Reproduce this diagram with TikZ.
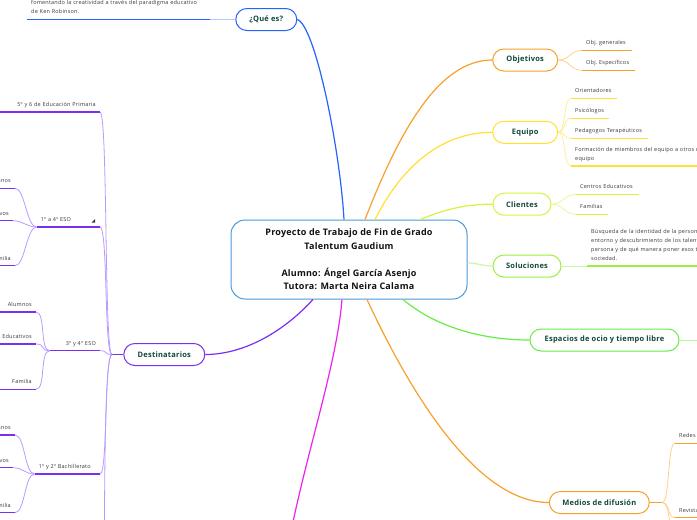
\documentclass[tikz,border=0pt]{standalone}
\usepackage{fontspec}
\setmainfont{Open Sans}
\newfontfamily\hubface[LetterSpace=2.5]{Open Sans}
\newfontfamily\topicface[LetterSpace=3]{Open Sans}
\newfontfamily\leafface[LetterSpace=4]{Open Sans}

\definecolor{hubblue}{HTML}{4A9BD8}
\definecolor{hubtext}{HTML}{111111}
\definecolor{topictext}{HTML}{11493A}
\definecolor{leaftext}{HTML}{3A3A3A}
\definecolor{qblue}{HTML}{2563FF}
\definecolor{qbluelight}{HTML}{B3C8FF}
\definecolor{orange}{HTML}{F7A12B}
\definecolor{orangelight}{HTML}{FFD08A}
\definecolor{yellow}{HTML}{FFE033}
\definecolor{yellowlight}{HTML}{FFEE99}
\definecolor{lime}{HTML}{D4F53C}
\definecolor{limelight}{HTML}{E6FA99}
\definecolor{lgreen}{HTML}{9CF03C}
\definecolor{lgreenlight}{HTML}{C9F7A6}
\definecolor{green}{HTML}{66EE44}
\definecolor{greenlight}{HTML}{B5F7A0}
\definecolor{purple}{HTML}{7A30F0}
\definecolor{purplelight}{HTML}{B99BFF}
\definecolor{magenta}{HTML}{EE22EE}

\newcommand\hubfont{\hubface\bfseries\fontsize{9}{13.5}\selectfont}
\newcommand\topicfont{\topicface\bfseries\fontsize{7.5}{8}\selectfont}
\newcommand\leaffont{\leafface\fontsize{5.5}{9}\selectfont\frenchspacing}

\tikzset{
  hub/.style={draw=hubblue, line width=1pt, rounded corners=14pt, minimum width=236pt,
    minimum height=79pt, align=center, font=\hubfont, text=hubtext, fill=white},
  topic/.style={draw=#1, line width=1pt, rounded corners=11pt, minimum height=22pt,
    font=\topicfont, text=topictext, fill=white, inner sep=0pt},
  leaf/.style={font=\leaffont, text=leaftext, inner xsep=4pt, inner ysep=2.8pt, align=left,
    execute at end node=\strut},
  link/.style={draw=#1, line width=1.2pt},
  twig/.style={draw=#1, line width=0.8pt},
  uline/.style={draw=#1, line width=1.5pt},
}

\begin{document}
\begin{tikzpicture}[x=1pt, y=-1pt]
    \path[fill=white, use as bounding box] (0,0) rectangle (697,520);

    % central node and main topics
    \node[hub] (hub) at (349,259.5) {Proyecto de Trabajo de Fin de Grado\\Talentum Gaudium\\[13.5pt]Alumno: Ángel García Asenjo\\Tutora: Marta Neira Calama};
    \node[topic=qblue, minimum width=61pt] (quees) at (266.3,19.5) {¿Qué es?};
    \node[topic=orange, minimum width=65pt] (objetivos) at (525.2,60) {Objetivos};
    \node[topic=yellow, minimum width=65pt] (equipo) at (525.2,132.3) {Equipo};
    \node[topic=lime, minimum width=58pt] (clientes) at (522,204.2) {Clientes};
    \node[topic=lgreen, minimum width=68pt] (soluciones) at (527,266) {Soluciones};
    \node[topic=green, minimum width=149pt] (espacios) at (604.5,340) {Espacios de ocio y tiempo libre};
    \node[topic=orange, minimum width=100pt] (medios) at (599.3,502.5) {Medios de difusión};
    \node[topic=purple, minimum width=81pt] (destinatarios) at (164.3,354.5) {Destinatarios};

    \coordinate (more1) at (293,522);
    \coordinate (more2) at (700,340);
    \draw[link=qblue] (quees.east) .. controls +(18,6) and +(-4,-70) .. ([xshift=-5pt]hub.north);
    \draw[link=orange] ([xshift=16pt]hub.north) .. controls +(35,-90) and +(-53,0) .. (objetivos.west);
    \draw[link=yellow] ([xshift=26pt]hub.north) .. controls +(25,-50) and +(-53,0) .. (equipo.west);
    \draw[link=lime] ([xshift=71pt]hub.north) .. controls +(25,-10) and +(-28,0) .. (clientes.west);
    \draw[link=lgreenlight] ([yshift=-3.5pt]hub.east) .. controls +(10,0) and +(-10,0) .. (soluciones.west);
    \draw[link=green] ([xshift=54pt]hub.south) .. controls +(37,31) and +(-40,0) .. (espacios.west);
    \draw[link=orange] ([xshift=18pt]hub.south) .. controls +(33,71) and +(-79,0) .. (medios.west);
    \draw[link=purple] ([xshift=-36pt]hub.south) .. controls +(-33,36) and +(35,0) .. (destinatarios.east);
    \draw[link=magenta] ([xshift=-7pt]hub.south) .. controls +(-5,61) and +(17,-80) .. (more1);
    \draw[twig=greenlight] (espacios.east) -- (more2);

    % ¿Qué es?
    \node[leaf, anchor=south west, text width=175pt] (qtext) at (27,19.5) {fomentando la creatividad a través del paradigma educativo\\de Ken Robinson.};
    \draw[twig=qbluelight] (quees.west) -- (qtext.south east);
    \draw[uline=qblue] (qtext.south west) -- (qtext.south east);

    % Objetivos
    \node[leaf, anchor=south west, text width=42pt] (objgen) at (582,50.3) {Obj. generales};
    \node[leaf, anchor=south west, text width=45pt] (objesp) at (582,70.3) {Obj. Específicos};
    \foreach \n in {objgen, objesp} {
        \draw[twig=orangelight] (objetivos.east) .. controls +(12,0) and +(-12,0) .. (\n.south west);
        \draw[uline=orange] (\n.south west) -- (\n.south east);
    }

    % Equipo
    \node[leaf, anchor=south west, text width=38pt] (orient) at (571,98.3) {Orientadores};
    \node[leaf, anchor=south west, text width=30pt] (psico) at (571,118.3) {Psicólogos};
    \node[leaf, anchor=south west, text width=69pt] (pedag) at (571,138.3) {Pedagogos Terapéuticos};
    \node[leaf, anchor=south west, text width=190pt] (formacion) at (571,166) {Formación de miembros del equipo a otros miembros del\\equipo};
    \foreach \n in {orient, psico, pedag, formacion} {
        \draw[twig=yellowlight] (equipo.east) .. controls +(8,0) and +(-8,0) .. (\n.south west);
        \draw[uline=yellow] (\n.south west) -- (\n.south east);
    }

    % Clientes
    \node[leaf, anchor=south west, text width=55pt] (centros) at (576,194.3) {Centros Educativos};
    \node[leaf, anchor=south west, text width=24pt] (familias) at (576,214.3) {Familias};
    \foreach \n in {centros, familias} {
        \draw[twig=limelight] (clientes.east) .. controls +(12,0) and +(-12,0) .. (\n.south west);
        \draw[uline=lime] (\n.south west) -- (\n.south east);
    }

    % Soluciones
    \node[leaf, anchor=south west, text width=200pt] (busqueda) at (587,266) {Búsqueda de la identidad de la persona en su\\entorno y descubrimiento de los talentos de la\\persona y de qué manera poner esos talentos en la\\sociedad.};
    \draw[twig=lgreenlight] (soluciones.east) -- (busqueda.south west);
    \draw[uline=lgreen] (busqueda.south west) -- (busqueda.south east);

    % Medios de difusión
    \draw[uline=orange] (medios.east) -- ++(12.4,0) coordinate (mfork);
    \node[leaf, anchor=south west, text width=60pt] (redes) at (675,443.3) {Redes sociales};
    \node[leaf, anchor=south west, text width=60pt] (revista) at (675,517.7) {Revista};
    \coordinate (more3) at (672,560);
    \foreach \n in {redes, revista} {
        \draw[twig=orangelight] (mfork) .. controls +(8,0) and +(-8,0) .. (\n.south west);
        \draw[uline=orange] (\n.south west) -- (\n.south east);
    }
    \draw[twig=orangelight] (mfork) .. controls +(8,0) and +(-2,-30) .. (more3);

    % Destinatarios
    \draw[uline=purple] (destinatarios.west) -- ++(-11.3,0) coordinate (dfork);
    \node[leaf, anchor=south east, text width=110pt, align=right] (prim) at (100,112) {5º y 6 de Educación Primaria};
    \node[leaf, anchor=south east, text width=55pt] (eso14) at (100,227) {1º a 4º ESO};
    \node[leaf, anchor=south east, text width=42pt, align=right] (eso34) at (100,350.7) {3º y 4º ESO};
    \node[leaf, anchor=south east, text width=57pt] (bach) at (100,474) {1º y 2º Bachillerato};
    \coordinate (more4) at (104,560);
    \foreach \n in {prim, eso14, eso34, bach} {
        \draw[twig=purplelight] (dfork) .. controls +(-8,0) and +(8,0) .. (\n.south east);
        \draw[uline=purple] (\n.south west) -- (\n.south east);
    }
    \draw[twig=purplelight] (dfork) .. controls +(-8,0) and +(1,-60) .. (more4);
    \fill[leaftext] (91.5,222.5) -- (95,222.5) -- (95,219) -- cycle;

    % 1º a 4º ESO
    \node[leaf, anchor=south east, text width=50pt, align=right] (alu14) at (15,188.3) {Alumnos};
    \node[leaf, anchor=south east, text width=60pt, align=right] (cen14) at (13,220.7) {Centros Educativos};
    \node[leaf, anchor=south east, text width=50pt, align=right] (fam14) at (15,265.7) {Familia};
    % 3º y 4º ESO
    \node[leaf, anchor=south east, text width=50pt, align=right] (alu34) at (36,312) {Alumnos};
    \node[leaf, anchor=south east, text width=60pt, align=right] (cen34) at (36,344) {Centros Educativos};
    \node[leaf, anchor=south east, text width=50pt, align=right] (fam34) at (36,389.3) {Familia};
    % 1º y 2º Bachillerato
    \node[leaf, anchor=south east, text width=50pt, align=right] (alub) at (15,435) {Alumnos};
    \node[leaf, anchor=south east, text width=60pt, align=right] (cenb) at (13,467.7) {Centros Educativos};
    \node[leaf, anchor=south east, text width=50pt, align=right] (famb) at (15,512.7) {Familia};
    \foreach \p/\n in {eso14/alu14, eso14/cen14, eso14/fam14, eso34/alu34, eso34/cen34, eso34/fam34, bach/alub, bach/cenb, bach/famb} {
        \draw[twig=purplelight] (\p.south west) .. controls +(-10,0) and +(10,0) .. (\n.south east);
        \draw[uline=purple] (\n.south west) -- (\n.south east);
    }
\end{tikzpicture}
\end{document}
